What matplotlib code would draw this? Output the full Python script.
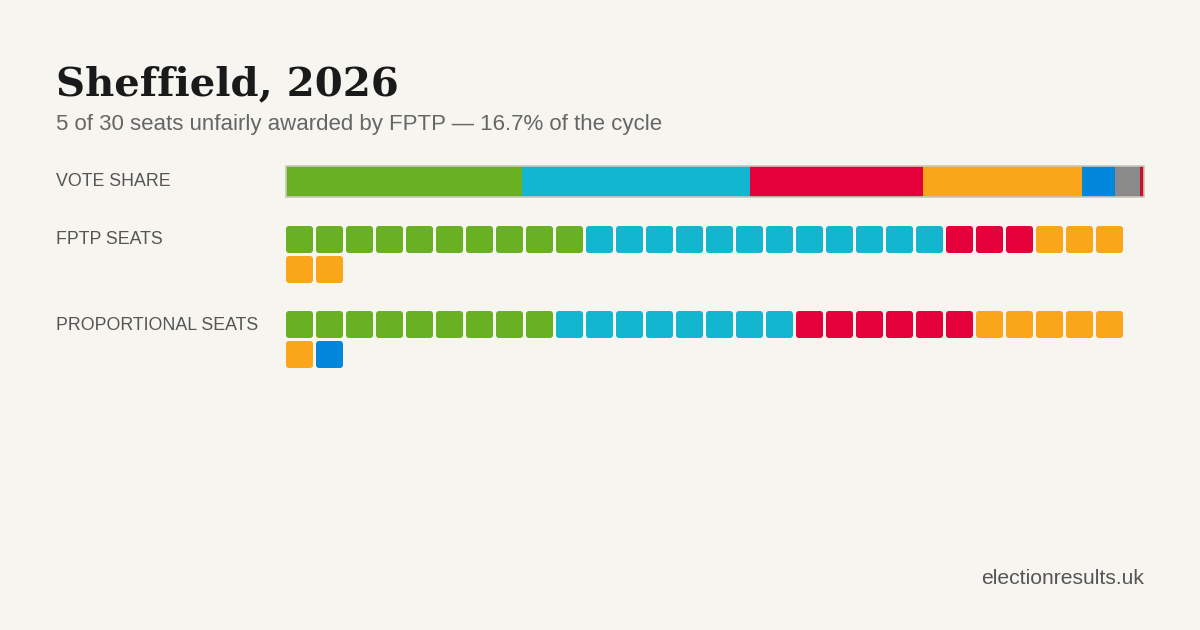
import matplotlib
matplotlib.use("Agg")
import matplotlib.pyplot as plt
from matplotlib.patches import FancyBboxPatch
import numpy as np

# data
parties = ["Green", "Independent", "Labour", "Lib Dem", "Reform", "Other", "TUSC"]
colours = ["#6ab023", "#12b6cf", "#e4003b", "#faa61a", "#0087dc", "#8a8a8a", "#c8102e"]
vote_share = [27.5, 26.5, 20.2, 18.5, 3.8, 2.9, 0.5]
fptp_seats = [10, 12, 3, 5, 0, 0, 0]
prop_seats = [9, 8, 6, 6, 1, 0, 0]

title = "Sheffield, 2026"
subtitle = "5 of 30 seats unfairly awarded by FPTP \u2014 16.7% of the cycle"
footer = "electionresults.uk"

BG = "#f6f5ef"
SANS = ["Liberation Sans", "DejaVu Sans"]

fig = plt.figure(figsize=(12, 6.3), dpi=100, facecolor=BG)
ax = fig.add_axes([0, 0, 1, 1])
ax.set_xlim(0, 1200)
ax.set_ylim(630, 0)
ax.axis("off")
ax.set_facecolor(BG)

fig.text(56 / 1200, 1 - 95 / 630, title, fontsize=29, fontweight="bold",
         family=["DejaVu Serif"], color="#1a1a1a", va="baseline")
fig.text(56 / 1200, 1 - 130 / 630, subtitle, fontsize=16, family=SANS,
         color="#666666", va="baseline")
fig.text(1144 / 1200, 1 - 584 / 630, footer, fontsize=15.2, family=SANS,
         color="#555555", va="baseline", ha="right")

# labels
for y, lab in [(181, "VOTE SHARE"), (240, "FPTP SEATS"), (325, "PROPORTIONAL SEATS")]:
    ax.text(56, y, lab, fontsize=12.8, family=SANS, color="#555555", va="center")

# vote share bar
x0, x1 = 286, 1144
bar_top, bar_h = 166, 31
scale = (x1 - x0) / sum(vote_share)
lefts = x0 + np.concatenate([[0], np.cumsum(vote_share)[:-1]]) * scale
ax.barh(bar_top + bar_h / 2, np.array(vote_share) * scale, left=lefts, height=bar_h,
        color=colours, edgecolor="none")
ax.add_patch(plt.Rectangle((x0, bar_top), x1 - x0, bar_h, fill=False,
                           edgecolor="#c9c8b8", lw=1.2))

# seat waffles
sq, pitch, per_row = 27, 30, 28


def draw_seats(seats, top):
    seq = []
    for c, n in zip(colours, seats):
        seq += [c] * n
    for i, c in enumerate(seq):
        r, k = divmod(i, per_row)
        ax.add_patch(FancyBboxPatch((x0 + k * pitch + 1.5, top + r * pitch + 1.5),
                                    sq - 3, sq - 3,
                                    boxstyle="round,pad=1.5,rounding_size=3",
                                    facecolor=c, edgecolor="none"))


draw_seats(fptp_seats, 226)
draw_seats(prop_seats, 311)

fig.savefig("out.png", dpi=100, facecolor=BG)
